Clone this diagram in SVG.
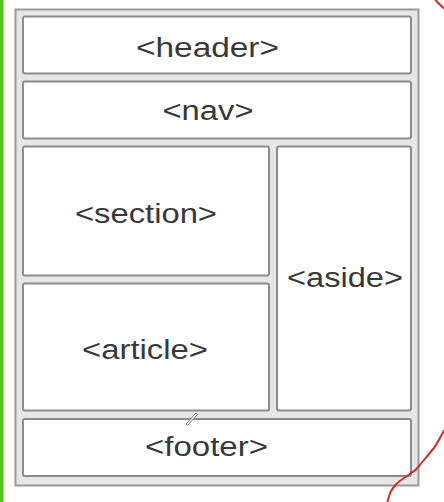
<svg xmlns="http://www.w3.org/2000/svg" width="444" height="502" viewBox="0 0 444 502">
<style>
.box{fill:#ffffff;stroke:#8c8c8c;stroke-width:2}
.lbl{font-family:"Liberation Sans",Arial,sans-serif;font-size:27px;fill:#383838;text-anchor:middle}
.ink{fill:none;stroke:#d42a2a;stroke-width:2;stroke-linecap:round;stroke-linejoin:round}
</style>
<rect x="0" y="0" width="444" height="502" fill="#ffffff"/>
<rect x="0" y="0" width="3.5" height="502" fill="#58c322"/>
<g id="page">
<rect x="15.5" y="9.5" width="403" height="476" fill="#e6e6e6" stroke="#9a9a9a" stroke-width="2"/>
</g>
<g id="header"><rect class="box" x="23" y="16.5" width="388" height="57" rx="2"/><text class="lbl" x="207.5" y="56.5" textLength="143" lengthAdjust="spacingAndGlyphs">&lt;header&gt;</text></g>
<g id="nav"><rect class="box" x="23" y="81.5" width="388" height="57" rx="2"/><text class="lbl" x="208" y="120" textLength="91" lengthAdjust="spacingAndGlyphs">&lt;nav&gt;</text></g>
<g id="section"><rect class="box" x="23" y="146.5" width="246" height="129" rx="2"/><text class="lbl" x="146" y="223" textLength="142" lengthAdjust="spacingAndGlyphs">&lt;section&gt;</text></g>
<g id="article"><rect class="box" x="23" y="283.5" width="246" height="127" rx="2"/><text class="lbl" x="145" y="359" textLength="126" lengthAdjust="spacingAndGlyphs">&lt;article&gt;</text></g>
<g id="aside"><rect class="box" x="277" y="146.5" width="134" height="264" rx="2"/><text class="lbl" x="345" y="287" textLength="116" lengthAdjust="spacingAndGlyphs">&lt;aside&gt;</text></g>
<g id="footer"><rect class="box" x="23" y="419" width="388" height="57" rx="2"/><text class="lbl" x="206.5" y="456" textLength="123" lengthAdjust="spacingAndGlyphs">&lt;footer&gt;</text></g>
<g id="connectors"></g>
<g id="annotations">
<path class="ink" d="M435.5 0 Q439 4 444 8.5"/>
<path class="ink" d="M444 430.5 Q438 442 434 448 Q428 455 424 460 Q419 466 415.5 470 Q410 474 405.5 477 Q399 481 395.5 485 Q392 489 390.5 492 Q388.5 497 387.5 502"/>
<path d="M186 424 L196 413 L197.5 414.5 L187.5 425.5 Z" fill="#ffffff" stroke="#555555" stroke-width="0.8"/>
</g>
</svg>
